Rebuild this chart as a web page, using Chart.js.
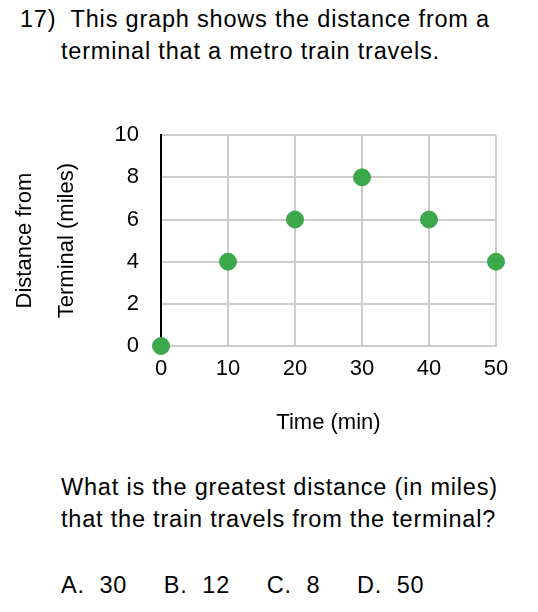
<!DOCTYPE html>
<html><head><meta charset="utf-8">
<script src="https://cdn.jsdelivr.net/npm/chart.js@4"></script>
<style>
body{margin:0;width:538px;height:612px;background:#fff;font-family:"Liberation Sans",Arial,sans-serif;color:#000;position:relative;overflow:hidden}
.t{position:absolute;font-size:23.5px;letter-spacing:0.8px;white-space:nowrap}
#c{position:absolute;left:0;top:100px}
</style></head><body>
<div class="t" style="left:20px;top:6px">17)&nbsp; This graph shows the distance from a</div>
<div class="t" style="left:61px;top:38px">terminal that a metro train travels.</div>
<canvas id="c" width="538" height="340"></canvas>
<div class="t" style="left:61px;top:474px">What is the greatest distance (in miles)</div>
<div class="t" style="left:61px;top:506px">that the train travels from the terminal?</div>
<div class="t" style="left:61px;top:572px">A.&nbsp; 30&nbsp;&nbsp;&nbsp;&nbsp; B.&nbsp; 12&nbsp;&nbsp;&nbsp;&nbsp; C.&nbsp; 8&nbsp;&nbsp;&nbsp;&nbsp; D.&nbsp; 50</div>
<script>
// chart data
const times = [0, 10, 20, 30, 40, 50];
const distances = [0, 4, 6, 8, 6, 4];
const yTicks = [0, 2, 4, 6, 8, 10];

const font = { family: '"Liberation Sans", Arial, sans-serif', size: 22 };

new Chart(document.getElementById('c'), {
    type: 'scatter',
    data: {
        datasets: [{
            data: times.map((t, i) => ({ x: t, y: distances[i] })),
            backgroundColor: '#3aa84b',
            borderColor: '#3aa84b',
            pointRadius: 8.5,
            clip: false
        }]
    },
    options: {
        responsive: false,
        animation: false,
        layout: { padding: { top: 18, right: 42 } },
        plugins: { legend: { display: false }, tooltip: { enabled: false } },
        scales: {
            x: {
                min: 0, max: 50,
                ticks: { stepSize: 10, color: '#000', font: font, padding: 10 },
                grid: { color: '#cccccc', lineWidth: 2, drawTicks: false },
                border: { color: '#cccccc', width: 2 },
                title: { display: true, text: 'Time (min)', color: '#000', font: font, padding: { top: 12 } },
                afterFit: s => { s.height = 94; }
            },
            y: {
                min: 0, max: 10,
                afterBuildTicks: s => { s.ticks = yTicks.map(v => ({ value: v })); },
                ticks: { color: '#000', font: font, padding: 22 },
                grid: { color: '#cccccc', lineWidth: 2, drawTicks: false },
                border: { color: '#000', width: 2 },
                title: { display: true, text: ['Distance from', 'Terminal (miles)'], color: '#000', font: { ...font, lineHeight: 1.9 }, padding: { bottom: 0 } },
                afterFit: s => { s.width = 161; }
            }
        }
    }
});
</script>
</body></html>
